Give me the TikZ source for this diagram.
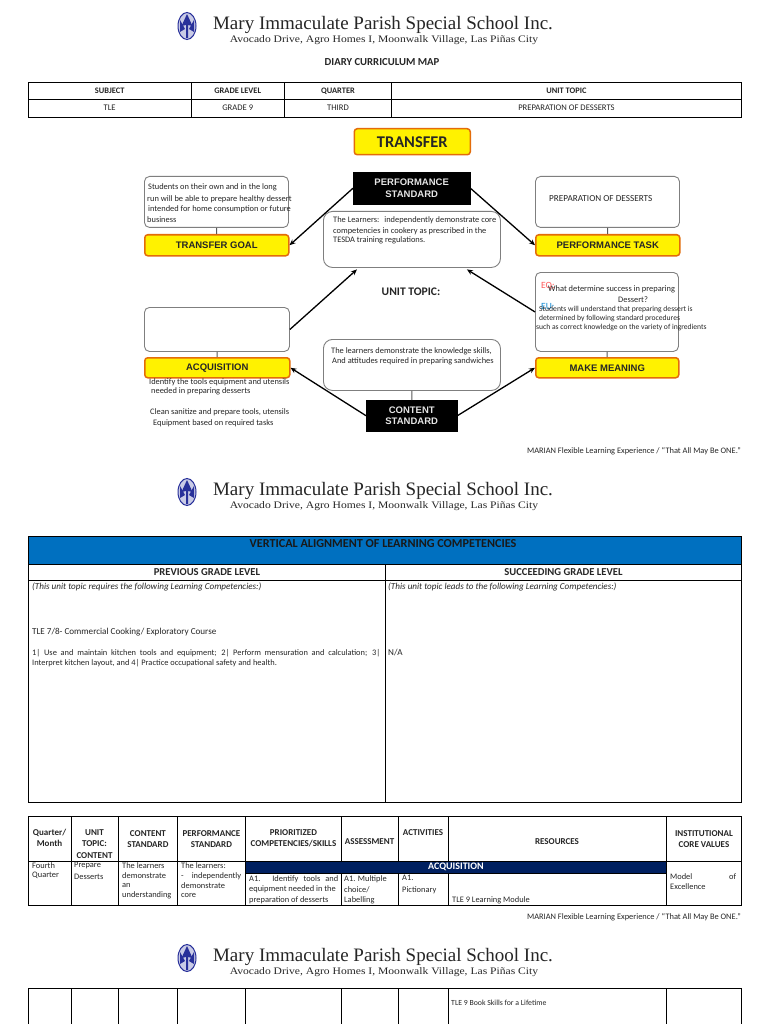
\documentclass[tikz,border=0pt]{standalone}
\usepackage{fontspec}
\setmainfont{Carlito}
\newfontfamily\headfont{Liberation Serif}
\newfontfamily\addrfont[FakeStretch=1.16]{Liberation Serif}
\newfontfamily\labfont{Liberation Sans}
\usetikzlibrary{arrows.meta,shapes.geometric}
\definecolor{inktext}{HTML}{262626}
\definecolor{boxgray}{HTML}{7F7F7F}
\definecolor{orangeb}{HTML}{E36C0A}
\definecolor{blueband}{HTML}{0070C0}
\definecolor{navyband}{HTML}{002060}
\definecolor{logoblue}{HTML}{28309A}
\newcommand\fs[1]{\fontsize{#1}{#1}\selectfont}
\tikzset{
  x=1pt,y=-1pt,
  txt/.style={anchor=west,inner sep=0pt,yshift=-0.8pt,text=inktext,font=\fs{8.4}},
  ctr/.style={anchor=center,inner sep=0pt,text=inktext,align=center},
  cellbox/.style={draw=black,line width=0.9pt,anchor=north west,inner sep=1pt,align=center,text=inktext,font=\fs{8.4}},
  softbox/.style={draw=boxgray,line width=0.9pt,rounded corners=5pt,fill=white,anchor=north west,inner sep=0pt},
  softboxb/.style={softbox,rounded corners=9pt},
  yellowbox/.style={draw=orangeb,line width=1.5pt,rounded corners=3pt,fill=yellow,anchor=north west,inner sep=0pt,text=black!85,font=\labfont\bfseries\fs{9.5}},
  blackbox/.style={draw=black,fill=black,anchor=north west,inner sep=0pt,align=center,font=\labfont\bfseries\fs{9.5},text=black!10},
  stem/.style={draw=boxgray!70!black,line width=1pt},
  flow/.style={draw=black,line width=1.3pt,-{Stealth[length=6pt,width=5pt]}},
  hdr/.style={font=\bfseries\fs{9}},
  small/.style={font=\fs{7.6}},
}
\newcommand\cell[6][]{%
  \pgfmathsetmacro\cellW{#4-#2}\pgfmathsetmacro\cellH{#5-#3}%
  \node[cellbox,minimum width=\cellW pt,minimum height=\cellH pt,#1] (#6) at (#2,#3)}
\newcommand\logohead[2]{%
  \node[ellipse,draw=logoblue,fill=logoblue!25,line width=1pt,minimum width=18pt,minimum height=27pt,inner sep=0pt] (#1logo) at (187,#2+3) {};
  \fill[logoblue] (187,#2-9) -- (192.5,#2+3) -- (188,#2+2) -- (188,#2+15) -- (186,#2+15) -- (186,#2+2) -- (181.5,#2+3) -- cycle;
  \fill[logoblue] (180,#2-3) -- (180,#2+9) -- (185,#2+6) -- cycle;
  \fill[logoblue] (194,#2-3) -- (194,#2+9) -- (189,#2+6) -- cycle;
  \node[ctr,font=\headfont\fs{19},anchor=center] (#1title) at (383,#2+1.5) {Mary Immaculate Parish Special School Inc.};
  \node[ctr,font=\addrfont\fs{10},anchor=center] (#1addr) at (384,#2+17.5) {Avocado Drive, Agro Homes I, Moonwalk Village, Las Piñas City};
}
\begin{document}
\begin{tikzpicture}
\clip (0,0) rectangle (768,1024);
\fill[white] (0,0) rectangle (768,1024);
% headers
\logohead{a}{23}
\logohead{b}{489}
\logohead{c}{955}
\node[ctr,font=\bfseries\fs{10.7}] (diary) at (382,62) {DIARY CURRICULUM MAP};
% table 1
\cell[font=\bfseries\fs{8.4}]{28}{82.5}{190.5}{99.5}{t1a}{\strut SUBJECT};
\cell[font=\bfseries\fs{8.4}]{190.5}{82.5}{284}{99.5}{t1b}{\strut GRADE LEVEL};
\cell[font=\bfseries\fs{8.4}]{284}{82.5}{391}{99.5}{t1c}{\strut QUARTER};
\cell[font=\bfseries\fs{8.4}]{391}{82.5}{741}{99.5}{t1d}{\strut UNIT TOPIC};
\cell[font=\fs{8.6}]{28}{99.5}{190.5}{117}{t1e}{\strut TLE};
\cell[font=\fs{8.6}]{190.5}{99.5}{284}{117}{t1f}{\strut GRADE 9};
\cell[font=\fs{8.6}]{284}{99.5}{391}{117}{t1g}{\strut THIRD};
\cell[font=\fs{8.6}]{391}{99.5}{741}{117}{t1h}{\strut PREPARATION OF DESSERTS};
% transfer
\node[yellowbox,font=\bfseries\fs{16.4},minimum width=116pt,minimum height=26pt] (transfer) at (353.5,128) {TRANSFER\hspace{8pt}};
\node[blackbox,minimum width=117pt,minimum height=32pt] (pstd) at (353,172) {PERFORMANCE\\[2pt]STANDARD};
\node[softboxb,minimum width=177pt,minimum height=56pt] (ptext) at (323,211) {};
\node[txt] (pt1) at (333,219) {The Learners:\hspace{5pt}independently demonstrate core};
\node[txt] (pt2) at (333,230) {competencies in cookery as prescribed in the};
\node[txt] (pt3) at (333,240) {TESDA training regulations.};
% transfer goal
\node[softbox,minimum width=144pt,minimum height=51pt] (tgtop) at (144,176) {};
\node[yellowbox,minimum width=144pt,minimum height=21pt] (tg) at (144,234) {TRANSFER GOAL};
\draw[stem] (tgtop) -- (tg);
\node[txt] (tg1) at (148,187) {Students on their own and in the long};
\node[txt] (tg2) at (147,198) {run will be able to prepare healthy dessert};
\node[txt] (tg3) at (148,208) {intended for home consumption or future};
\node[txt] (tg4) at (147,219) {business};
% performance task
\node[softbox,minimum width=144pt,minimum height=51pt] (pftop) at (535,176) {};
\node[yellowbox,minimum width=144pt,minimum height=21pt] (pf) at (535,234) {PERFORMANCE TASK};
\draw[stem] (pftop) -- (pf);
\node[txt,font=\fs{9.2}] (pf1) at (549,198) {PREPARATION OF DESSERTS};
% acquisition
\node[softbox,minimum width=145pt,minimum height=44pt] (actop) at (144,307) {};
\node[yellowbox,minimum width=145pt,minimum height=20pt] (ac) at (144,357) {ACQUISITION};
\draw[stem] (actop) -- (ac);
\node[txt] (ac1) at (149,381) {Identify the tools equipment and utensils};
\node[txt] (ac2) at (151,391) {needed in preparing desserts};
\node[txt] (ac3) at (150,411) {Clean sanitize and prepare tools, utensils};
\node[txt] (ac4) at (153,422) {Equipment based on required tasks};
% make meaning
\node[softbox,minimum width=143pt,minimum height=79pt] (mmtop) at (535,272) {};
\node[yellowbox,minimum width=143pt,minimum height=20pt] (mm) at (535,357) {MAKE MEANING};
\draw[stem] (mmtop) -- (mm);
\node[txt,text=red!65,font=\fs{9.5}] (eq) at (541,285) {EQ:};
\node[txt,text=cyan!70!blue,font=\fs{9.5}] (eu) at (541,306) {EU:};
\node[txt] (mm1) at (548,289) {What determine success in preparing};
\node[txt] (mm2) at (618,299) {Dessert?};
\node[txt,small] (mm3) at (539,309) {Students will understand that preparing dessert is};
\node[txt,small] (mm4) at (539,318) {determined by following standard procedures};
\node[txt,small] (mm5) at (536,327) {such as correct knowledge on the variety of ingredients};
% content
\node[softboxb,minimum width=177pt,minimum height=51pt] (ctext) at (323,339) {};
\node[txt] (ct1) at (331,351) {The learners demonstrate the knowledge skills,};
\node[txt] (ct2) at (332,361) {And attitudes required in preparing sandwiches};
\node[blackbox,minimum width=91pt,minimum height=31pt] (cstd) at (366,400) {CONTENT\\[2pt]STANDARD};
\draw[stem] (ctext) -- (cstd);
\node[ctr,font=\bfseries\fs{11.6}] (unit) at (411,292) {UNIT TOPIC:};
% arrows
\draw[flow] (pstd.west) -- (tg.east);
\draw[flow] (pstd.east) -- (pf.west);
\draw[flow] (actop.east) -- ([xshift=34pt,yshift=-1.5pt]ptext.south west);
\draw[flow] (mmtop.west) -- ([xshift=-34pt,yshift=-1.5pt]ptext.south east);
\draw[flow] (cstd.west) -- (ac.east);
\draw[flow] (cstd.east) -- (mm.west);
% footers
\node[txt,anchor=east] (foot1) at (741,450) {MARIAN Flexible Learning Experience / “That All May Be ONE.”};
\node[txt,anchor=east] (foot2) at (741,916) {MARIAN Flexible Learning Experience / “That All May Be ONE.”};
% table 2
\cell[fill=blueband]{28}{535.5}{741}{564}{t2head}{};
\node[ctr,font=\bfseries\fs{12.2},text=black!90] (t2title) at (383,544) {VERTICAL ALIGNMENT OF LEARNING COMPETENCIES};
\cell[font=\bfseries\fs{10.6}]{28}{564}{385}{580}{t2a}{PREVIOUS GRADE LEVEL};
\cell[font=\bfseries\fs{10.6}]{385}{564}{741}{580}{t2b}{SUCCEEDING GRADE LEVEL};
\cell{28}{580}{385}{802}{t2c}{};
\cell{385}{580}{741}{802}{t2d}{};
\node[txt,font=\itshape\fs{9.1}] (t2i1) at (32,586) {(This unit topic requires the following Learning Competencies:)};
\node[txt,font=\itshape\fs{9.1}] (t2i2) at (388,586) {(This unit topic leads to the following Learning Competencies:)};
\node[txt,font=\fs{9.1}] (t2l) at (32,631) {TLE 7/8- Commercial Cooking/ Exploratory Course};
\node[txt] (t2p1) at (32,652) {\makebox[348pt][s]{1| Use and maintain kitchen tools and equipment; 2| Perform mensuration and calculation; 3|}};
\node[txt] (t2p2) at (32,662) {Interpret kitchen layout, and 4| Practice occupational safety and health.};
\node[txt,font=\fs{9.1}] (t2na) at (388,652) {N/A};
% table 3
\cell{28}{816}{71}{860.5}{h1}{};
\cell{71}{816}{118}{860.5}{h2}{};
\cell[hdr]{118}{816}{177}{860.5}{h3}{CONTENT\\[2pt]STANDARD};
\cell[hdr]{177}{816}{245}{860.5}{h4}{PERFORMANCE\\[2pt]STANDARD};
\cell[hdr]{245}{816}{341}{860.5}{h5}{PRIORITIZED\\[2pt]COMPETENCIES/SKILLS};
\cell{341}{816}{398}{860.5}{h6}{};
\cell{398}{816}{448}{860.5}{h7}{};
\cell{448}{816}{666}{860.5}{h8}{};
\cell[hdr]{666}{816}{741}{860.5}{h9}{INSTITUTIONAL\\[2pt]CORE VALUES};
\node[ctr,hdr] (h1t) at (49.5,838) {Quarter/\\[2pt]Month};
\node[ctr,hdr] (h2t) at (94.5,844) {UNIT\\[2.5pt]TOPIC:\\[2.5pt]CONTENT};
\node[ctr,hdr] (h6t) at (369.5,842) {ASSESSMENT};
\node[ctr,hdr] (h7t) at (423,833) {ACTIVITIES};
\node[ctr,hdr] (h8t) at (557,842) {RESOURCES};
\cell{28}{860.5}{71}{905}{d1}{};
\cell{71}{860.5}{118}{905}{d2}{};
\cell{118}{860.5}{177}{905}{d3}{};
\cell{177}{860.5}{245}{905}{d4}{};
\cell{245}{873}{341}{905}{d5}{};
\cell{341}{873}{398}{905}{d6}{};
\cell{398}{873}{448}{905}{d7}{};
\cell{448}{873}{666}{905}{d8}{};
\cell{666}{860.5}{741}{905}{d9}{};
\cell[fill=navyband,text=white,font=\bfseries\fs{10}]{245}{860.5}{666}{873}{acqband}{ACQUISITION};
\node[txt] (q1) at (32,865) {Fourth};
\node[txt] (q2) at (32,875) {Quarter};
\node[txt] (u1) at (74,865) {Prepare};
\node[txt] (u2) at (74,876) {Desserts};
\node[txt] (s1) at (122,865) {The learners};
\node[txt] (s2) at (122,875) {demonstrate};
\node[txt] (s3) at (122,885) {an};
\node[txt] (s4) at (122,894) {understanding};
\node[txt] (p1) at (181,865) {The learners:};
\node[txt] (p2) at (181,875) {\makebox[60pt][s]{- independently}};
\node[txt] (p3) at (181,885) {demonstrate};
\node[txt] (p4) at (181,895) {core};
\node[txt] (c1) at (249,878) {\makebox[89pt][s]{A1. Identify tools and}};
\node[txt] (c2) at (249,888) {equipment needed in the};
\node[txt] (c3) at (249,899) {preparation of desserts};
\node[txt] (as1) at (344,878) {A1. Multiple};
\node[txt] (as2) at (344,889) {choice/};
\node[txt] (as3) at (344,899) {Labelling};
\node[txt] (ac5) at (402,877) {A1.};
\node[txt] (ac6) at (402,889) {Pictionary};
\node[txt] (re1) at (452,899) {TLE 9 Learning Module};
\node[txt] (v1) at (670,876) {\makebox[66pt][s]{Model of}};
\node[txt] (v2) at (670,886) {Excellence};
% table 4
\cell{28}{988}{71}{1030}{e1}{};
\cell{71}{988}{118}{1030}{e2}{};
\cell{118}{988}{177}{1030}{e3}{};
\cell{177}{988}{245}{1030}{e4}{};
\cell{245}{988}{341}{1030}{e5}{};
\cell{341}{988}{398}{1030}{e6}{};
\cell{398}{988}{448}{1030}{e7}{};
\cell{448}{988}{666}{1030}{e8}{};
\cell{666}{988}{741}{1030}{e9}{};
\node[txt,font=\fs{7.8}] (e8t) at (451,1002) {TLE 9 Book Skills for a Lifetime};
\end{tikzpicture}
\end{document}
